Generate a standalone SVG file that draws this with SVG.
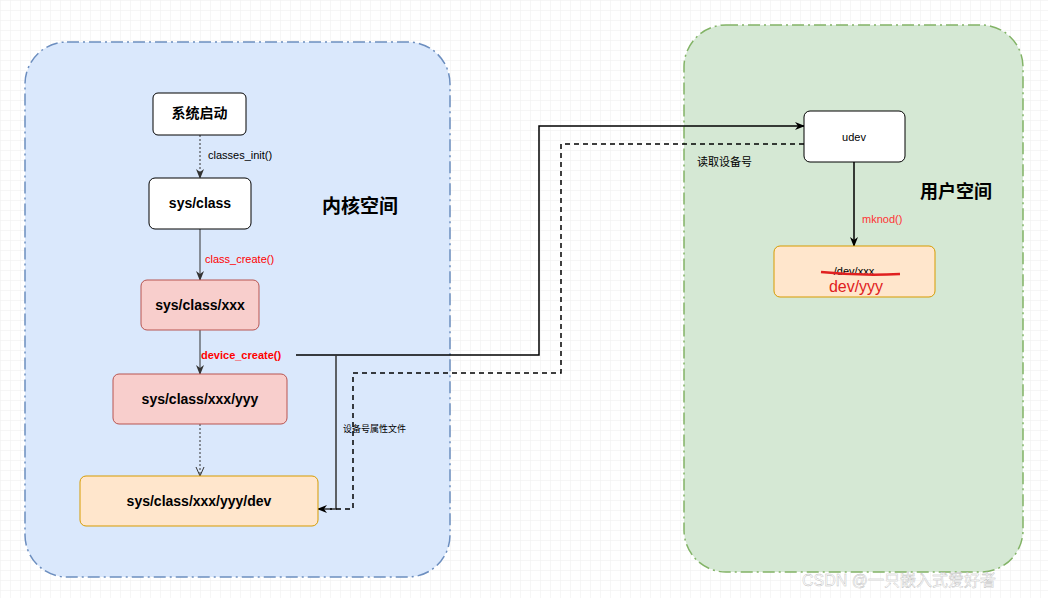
<svg xmlns="http://www.w3.org/2000/svg" width="1048" height="598" viewBox="0 0 1048 598">
<defs>
<pattern id="g" width="10" height="10" patternUnits="userSpaceOnUse"><path d="M10 0H0V10" fill="none" stroke="#eeeeee" stroke-width="1"/></pattern>
<marker id="a" markerWidth="10" markerHeight="10" refX="9" refY="5" orient="auto" markerUnits="userSpaceOnUse"><path d="M0 1L10 5L0 9L3 5Z" fill="#000"/></marker>
<marker id="ag" markerWidth="10" markerHeight="10" refX="9" refY="5" orient="auto" markerUnits="userSpaceOnUse"><path d="M0 1L10 5L0 9L3 5Z" fill="#333"/></marker>
<marker id="ao" markerWidth="10" markerHeight="10" refX="9" refY="5" orient="auto" markerUnits="userSpaceOnUse"><path d="M0 1L9 5L0 9" fill="none" stroke="#333"/></marker>
</defs>
<style>
text{font-family:"Liberation Sans","Noto Sans CJK SC",sans-serif;}
.n{stroke-width:1;}
.w{fill:#fff;stroke:#000;}
.r{fill:#f8cecc;stroke:#b85450;}
.o{fill:#ffe6cc;stroke:#d79b00;}
.t{font-size:14px;font-weight:bold;text-anchor:middle;fill:#000;}
.l{font-size:11px;}
</style>
<rect width="1048" height="598" fill="#fff"/>
<rect width="1048" height="598" fill="url(#g)"/>
<g id="kernel"><rect x="25" y="42" width="425" height="535" rx="42" fill="#dae8fc" stroke="#6c8ebf" stroke-width="1.5" stroke-dasharray="12 4 2 4"/><text x="360" y="213" font-size="19" font-weight="bold" text-anchor="middle">内核空间</text></g>
<g id="user"><rect x="684" y="25" width="339" height="547" rx="42" fill="#d5e8d4" stroke="#82b366" stroke-width="1.5" stroke-dasharray="12 4 2 4"/><text x="956" y="198" font-size="18" font-weight="bold" text-anchor="middle">用户空间</text></g>
<g id="connectors" fill="none">
<path d="M200 135V178" stroke="#333" stroke-dasharray="2 2" marker-end="url(#ag)"/>
<path d="M200 229V280" stroke="#333" marker-end="url(#ag)"/>
<path d="M200 330V374" stroke="#333" marker-end="url(#ag)"/>
<path d="M200 424V476" stroke="#333" stroke-dasharray="2 2" marker-end="url(#ao)"/>
<path d="M296 355H539V126H804" stroke="#000" stroke-width="1.5" marker-end="url(#a)"/>
<path d="M336 355V509H318" stroke="#333" stroke-width="1.5" marker-end="url(#a)"/>
<path d="M804 144H561V373H353V509H330" stroke="#000" stroke-width="1.5" stroke-dasharray="5 4"/>
<path d="M854 162V246" stroke="#000" stroke-width="1.5" marker-end="url(#a)"/>
<text x="208" y="159" class="l" fill="#000" stroke="none">classes_init()</text>
<text x="205" y="263" class="l" fill="#ff0000" stroke="none">class_create()</text>
<text x="201" y="359" font-size="11" font-weight="bold" fill="#ff0000" stroke="none">device_create()</text>
<text x="343" y="432" font-size="9" fill="#000" stroke="none">设备号属性文件</text>
<text x="697" y="166" class="l" fill="#000" stroke="none">读取设备号</text>
<text x="862" y="223" class="l" fill="#ff3333" stroke="none">mknod()</text>
</g>
<g id="n1"><rect class="n w" x="153" y="93" width="93" height="42" rx="5"/><text class="t" x="199.5" y="118" font-weight="normal" font-size="13">系统启动</text></g>
<g id="n2"><rect class="n w" x="149" y="178" width="102" height="51" rx="6"/><text class="t" x="200" y="208">sys/class</text></g>
<g id="n3"><rect class="n r" x="141" y="280" width="118" height="50" rx="6"/><text class="t" x="200" y="310">sys/class/xxx</text></g>
<g id="n4"><rect class="n r" x="113" y="374" width="174" height="50" rx="6"/><text class="t" x="200" y="404">sys/class/xxx/yyy</text></g>
<g id="n5"><rect class="n o" x="80" y="476" width="238" height="50" rx="6"/><text class="t" x="199" y="506">sys/class/xxx/yyy/dev</text></g>
<g id="n6"><rect class="n w" x="804" y="111" width="101" height="51" rx="6"/><text x="854" y="141" font-size="11" text-anchor="middle">udev</text></g>
<g id="n7"><rect class="n o" x="774" y="246" width="161" height="51" rx="6"/><text x="854" y="275" font-size="11" text-anchor="middle">/dev/xxx</text><path d="M821 272Q860 276 900 274" stroke="#e02020" stroke-width="2.5" fill="none"/><text x="856" y="292" font-size="16" fill="#e02020" text-anchor="middle">dev/yyy</text></g>
<text x="802" y="586" font-size="16" fill="#fff" stroke="#bbb" stroke-width="0.4">CSDN @一只嵌入式爱好者</text>
</svg>
